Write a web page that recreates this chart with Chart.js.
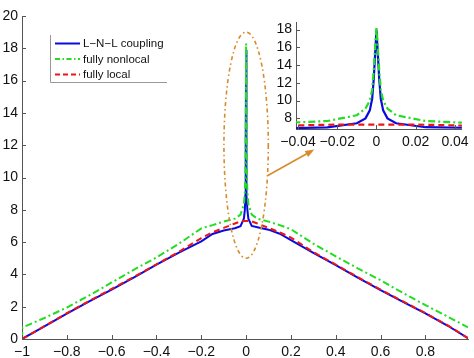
<!DOCTYPE html>
<html>
<head>
<meta charset="utf-8">
<script src="https://cdn.jsdelivr.net/npm/chart.js@4.4.0/dist/chart.umd.min.js"></script>
<style>
  html, body { margin: 0; padding: 0; background: #fff; }
  #wrap { position: relative; width: 474px; height: 358px; }
  #main { position: absolute; left: 0; top: 0; }
  #inset { position: absolute; left: 268px; top: 8px; }
</style>
</head>
<body>
<div id="wrap">
  <canvas id="main" width="474" height="358"></canvas>
  <canvas id="inset" width="206" height="150"></canvas>
</div>
<script>
// values
const xValues = [-1, -0.998, -0.9, -0.8, -0.7, -0.6, -0.5, -0.4, -0.3, -0.2, -0.15, -0.1, -0.05, -0.025,
  -0.01, -0.0056, -0.0034, -0.0022, -0.0014, -0.0005, 0, 0.0005, 0.0014, 0.0022, 0.0034, 0.0056, 0.01,
  0.025, 0.05, 0.1, 0.15, 0.2, 0.3, 0.4, 0.5, 0.6, 0.7, 0.8, 0.9, 0.99];
const couplingValues = [0, 0.015, 0.78, 1.57, 2.33, 3.05, 3.82, 4.6, 5.35, 6.05, 6.5, 6.72, 6.86, 6.98,
  7.45, 8.0, 8.9, 10.2, 12.4, 16.0, 17.9, 16.0, 12.4, 10.2, 8.9, 8.0, 7.45,
  7.0, 6.92, 6.77, 6.52, 6.12, 5.33, 4.57, 3.79, 3.02, 2.3, 1.58, 0.82, 0.05];
const nonlocalValues = [0, 0.72, 1.3, 1.95, 2.7, 3.5, 4.3, 5.05, 5.9, 6.85, 7.05, 7.27, 7.45, 7.7,
  8.35, 9.1, 10.0, 11.2, 13.4, 16.7, 18.3, 16.7, 13.4, 11.2, 10.0, 9.1, 8.35,
  7.7, 7.45, 7.27, 7.05, 6.8, 5.9, 5.12, 4.36, 3.64, 2.85, 2.1, 1.38, 0.72];
const localValues = [0, 0.015, 0.8, 1.6, 2.35, 3.1, 3.85, 4.62, 5.4, 6.25, 6.6, 6.88, 7.15, 7.28,
  7.3, 7.3, 7.3, 7.3, 7.3, 7.3, 7.3, 7.3, 7.3, 7.3, 7.3, 7.3, 7.3,
  7.28, 7.15, 6.88, 6.6, 6.28, 5.38, 4.6, 3.82, 3.05, 2.33, 1.6, 0.84, 0.05];
const seriesNames = ["L\u2212N\u2212L coupling", "fully nonlocal", "fully local"];
const xTicks = [-1, -0.8, -0.6, -0.4, -0.2, 0, 0.2, 0.4, 0.6, 0.8];
const yTicks = [0, 2, 4, 6, 8, 10, 12, 14, 16, 18, 20];
const insetXTicks = [-0.04, -0.02, 0, 0.02, 0.04];
const insetYTicks = [8, 10, 12, 14, 16, 18];

const FONT = "'Liberation Sans', Arial, Helvetica, sans-serif";
const BLUE = "#0a0ae0";
const GREEN = "#22dd22";
const RED = "#ee1515";
const ORANGE = "#d98a2b";
const AXIS = "#555";

const fmt = v => (v < 0 ? "\u2212" : "") + Math.abs(v);

function makeDatasets(width) {
  const pts = arr => xValues.map((x, i) => ({ x: x, y: arr[i] }));
  return [
    { label: seriesNames[0], data: pts(couplingValues), borderColor: BLUE, borderWidth: width, order: 3 },
    { label: seriesNames[1], data: pts(nonlocalValues), borderColor: GREEN, borderWidth: width,
      borderDash: [7, 3, 2, 3], order: 2 },
    { label: seriesNames[2], data: pts(localValues), borderColor: RED, borderWidth: width,
      borderDash: [6, 4], order: 1 },
  ];
}

// MATLAB style ticks pointing into the axes
const inwardTicks = {
  id: "inwardTicks",
  afterDraw(chart) {
    const { ctx, chartArea, scales } = chart;
    ctx.save();
    ctx.strokeStyle = AXIS;
    ctx.lineWidth = 1;
    ctx.beginPath();
    scales.x.ticks.forEach(t => {
      const px = Math.round(scales.x.getPixelForValue(t.value)) + 0.5;
      ctx.moveTo(px, chartArea.bottom);
      ctx.lineTo(px, chartArea.bottom - 4);
    });
    scales.y.ticks.forEach(t => {
      const py = Math.round(scales.y.getPixelForValue(t.value)) + 0.5;
      ctx.moveTo(chartArea.left, py);
      ctx.lineTo(chartArea.left + 4, py);
    });
    ctx.stroke();
    ctx.restore();
  }
};

// dashed ellipse round the peak and the arrow to the inset
const zoomMark = {
  id: "zoomMark",
  afterDatasetsDraw(chart) {
    const { ctx, scales: { x, y } } = chart;
    const cx = x.getPixelForValue(0), cy = y.getPixelForValue(12);
    const rx = x.getPixelForValue(0.099) - cx, ry = cy - y.getPixelForValue(19);
    ctx.save();
    ctx.strokeStyle = ORANGE;
    ctx.lineWidth = 1.6;
    ctx.setLineDash([4, 3, 1.5, 3]);
    ctx.beginPath();
    ctx.ellipse(cx, cy, rx, ry, 0, 0, Math.PI * 2);
    ctx.stroke();
    ctx.setLineDash([]);
    const x0 = x.getPixelForValue(0.097), y0 = y.getPixelForValue(10.12);
    const x1 = x.getPixelForValue(0.304), y1 = y.getPixelForValue(11.73);
    const a = Math.atan2(y1 - y0, x1 - x0);
    ctx.beginPath();
    ctx.moveTo(x0, y0);
    ctx.lineTo(x1 - 6 * Math.cos(a), y1 - 6 * Math.sin(a));
    ctx.stroke();
    ctx.fillStyle = ORANGE;
    ctx.beginPath();
    ctx.moveTo(x1, y1);
    ctx.lineTo(x1 - 9 * Math.cos(a) + 3.5 * Math.sin(a), y1 - 9 * Math.sin(a) - 3.5 * Math.cos(a));
    ctx.lineTo(x1 - 9 * Math.cos(a) - 3.5 * Math.sin(a), y1 - 9 * Math.sin(a) + 3.5 * Math.cos(a));
    ctx.closePath();
    ctx.fill();
    ctx.restore();
  }
};

const legendBox = {
  id: "legendBox",
  afterDraw(chart) {
    const ctx = chart.ctx;
    const styles = [
      { color: BLUE, dash: [] },
      { color: GREEN, dash: [5, 2.5, 1.5, 2.5] },
      { color: RED, dash: [5, 3] },
    ];
    ctx.save();
    ctx.strokeStyle = "#999";
    ctx.lineWidth = 1;
    ctx.beginPath();
    ctx.moveTo(50.5, 35);
    ctx.lineTo(50.5, 82.5);
    ctx.lineTo(167, 82.5);
    ctx.stroke();
    ctx.font = "11.5px " + FONT;
    ctx.textBaseline = "middle";
    ctx.fillStyle = "#111";
    const rows = [43.5, 59, 74.5];
    seriesNames.forEach((name, i) => {
      ctx.strokeStyle = styles[i].color;
      ctx.lineWidth = 2;
      ctx.setLineDash(styles[i].dash);
      ctx.beginPath();
      ctx.moveTo(55, rows[i]);
      ctx.lineTo(80, rows[i]);
      ctx.stroke();
      ctx.fillText(name, 83, rows[i] + 0.5);
    });
    ctx.restore();
  }
};

function axisOptions(min, max, ticks, size, isY) {
  return {
    type: "linear",
    min: min,
    max: max,
    afterBuildTicks: s => { s.ticks = ticks.map(v => ({ value: v })); },
    afterFit: s => { if (isY) s.width = size; else s.height = size; },
    grid: { drawOnChartArea: false, drawTicks: false, color: "rgba(0,0,0,0)" },
    border: { display: true, color: AXIS, width: 1 },
    ticks: { color: "#111", font: { family: FONT, size: 14 }, padding: isY ? 4 : 5, callback: fmt,
      autoSkip: false, maxRotation: 0 },
  };
}

const common = {
  responsive: false,
  animation: false,
  devicePixelRatio: 1,
  elements: { point: { radius: 0 }, line: { tension: 0, borderCapStyle: "butt" } },
  plugins: { legend: { display: false }, tooltip: { enabled: false } },
};

new Chart(document.getElementById("main"), {
  type: "line",
  data: { datasets: makeDatasets(2) },
  options: Object.assign({}, common, {
    layout: { padding: { left: 0, right: 6, top: 16, bottom: 0 } },
    scales: {
      x: axisOptions(-1, 0.99, xTicks, 19, false),
      y: axisOptions(0, 20, yTicks, 22, true),
    },
  }),
  plugins: [inwardTicks, zoomMark, legendBox],
});

new Chart(document.getElementById("inset"), {
  type: "line",
  data: { datasets: makeDatasets(2.2) },
  options: Object.assign({}, common, {
    layout: { padding: { left: 0, right: 9, top: 14, bottom: 0 } },
    scales: {
      x: axisOptions(-0.041, 0.0435, insetXTicks, 29, false),
      y: axisOptions(6.8, 18.85, insetYTicks, 28, true),
    },
  }),
  plugins: [inwardTicks],
});
</script>
</body>
</html>
